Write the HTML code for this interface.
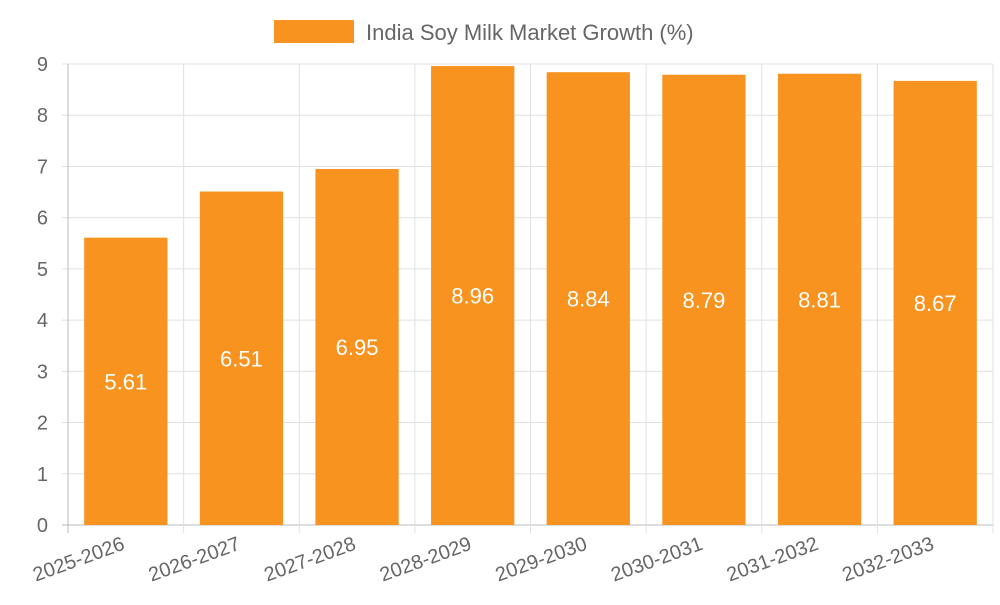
<!DOCTYPE html>
<html><head><meta charset="utf-8"><style>
body{margin:0;background:#fff;font-family:"Liberation Sans",sans-serif}
</style></head><body>
<svg id="chart" width="1000" height="600" xmlns="http://www.w3.org/2000/svg" font-family="Liberation Sans, sans-serif">
<g>
<rect x="274" y="20" width="80" height="23" fill="#f7931e"/>
<text x="366" y="40" font-size="22" fill="#666">India Soy Milk Market Growth (%)</text>
</g>
<g id="grid"></g><g id="bars"></g><g id="labels"></g>
</svg>
<script>
const categories=["2025-2026","2026-2027","2027-2028","2028-2029","2029-2030","2030-2031","2031-2032","2032-2033"];
const values=[5.61,6.51,6.95,8.96,8.84,8.79,8.81,8.67];
const yTicks=[0,1,2,3,4,5,6,7,8,9];
const NS="http://www.w3.org/2000/svg";
const L=68,R=993,T=64,B=525,yMax=9;
const y=v=>B-(B-T)*v/yMax;
const cw=(R-L)/categories.length;
const x=i=>L+cw*i;
function mk(tag,attrs,parent,txt){const e=document.createElementNS(NS,tag);for(const k in attrs)e.setAttribute(k,attrs[k]);if(txt!=null)e.textContent=txt;document.getElementById(parent).appendChild(e);return e;}
yTicks.forEach(t=>{
 const l=mk('line',{x1:L-6,x2:R,y1:y(t),y2:y(t),stroke:t===0?'#bbb':'#e0e0e0','stroke-width':1},'grid');
 
 
 const tx=mk('text',{x:L-20,y:y(t)+7,'font-size':20,fill:'#666','text-anchor':'end'},'labels',t);
 
 
});
for(let i=0;i<=categories.length;i++){
 const l=mk('line',{x1:x(i),x2:x(i),y1:T,y2:B+8,stroke:i===0?'#bbb':'#e0e0e0','stroke-width':1},'grid');
 
 
}
categories.forEach((c,i)=>{
 const bw=cw*0.72,cx=x(i)+cw/2;
 const r=mk('rect',{x:cx-bw/2,y:y(values[i]),width:bw,height:B-y(values[i]),fill:'#f7931e'},'bars');
 
 
 const v=mk('text',{x:cx,y:(y(values[i])+B)/2+8,'font-size':22,fill:'#fff','text-anchor':'middle'},'labels',values[i].toFixed(2));
 
 
 const t=mk('text',{x:cx,y:B+24,'font-size':20,fill:'#666','text-anchor':'end',transform:`rotate(-20 ${cx} ${B+24})`},'labels',c);
 
 
});
</script>
</body></html>
